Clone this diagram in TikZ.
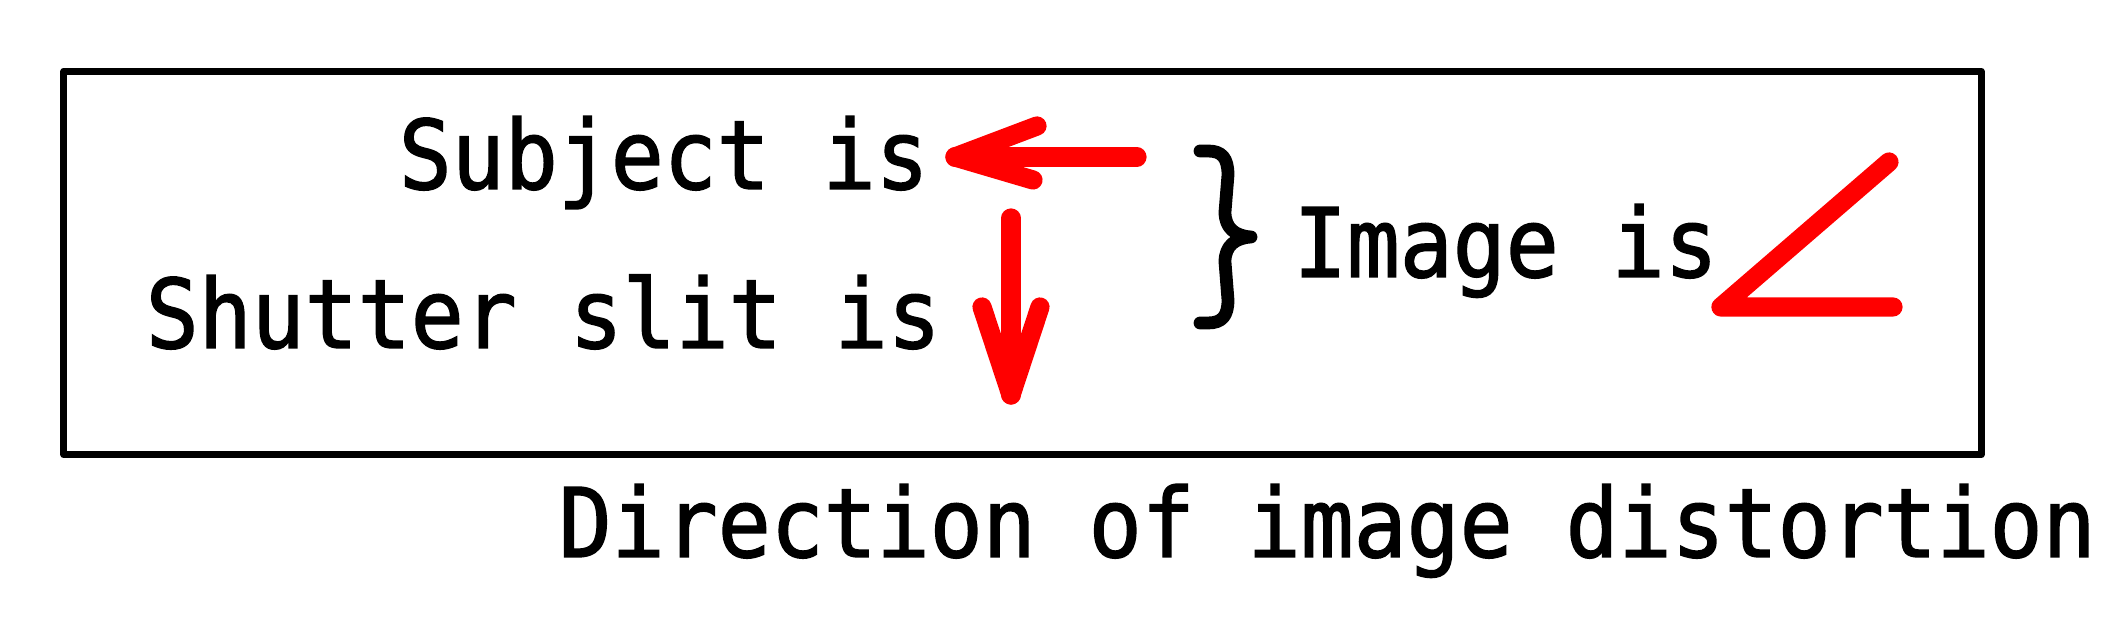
\documentclass[tikz,border=0pt]{standalone}
\usepackage{fontspec}
\newfontfamily\dmono{DejaVu Sans Mono}[FakeStretch=0.917,FakeBold=1.5]
\begin{document}
\begin{tikzpicture}[x=0.25pt,y=-0.25pt,
  lbl/.style={font=\dmono\fontsize{24pt}{28pt}\selectfont, inner sep=0pt, anchor=base west},
  redline/.style={draw=red, line width=4.8pt, line cap=round, line join=round},
  frame/.style={draw=black, line width=1.75pt, line join=round},
  bracestyle/.style={draw=black, line width=3.2pt, line cap=round, line join=round}]
\useasboundingbox (0,0) rectangle (2125,617);
% frame
\draw[frame] (63.8,71.3) rectangle (1981,454.7);
% labels
\node[lbl] (subj) at (398,189) {Subject is};
\node[lbl] (shut) at (145,348) {Shutter slit is};
\node[lbl] (img) at (1293,277) {Image is};
\node[lbl] (dir) at (558,557) {Direction of image distortion};
% left arrow
\coordinate (lt) at (955,157);
\coordinate (ls) at (1137,157);
\draw[redline] (ls) -- (lt);
\draw[redline] (1037,126) -- (lt) -- (1033,180);
% down arrow
\coordinate (dt) at (1011,395);
\coordinate (ds) at (1011,218);
\draw[redline] (ds) -- (dt);
\draw[redline] (982,307) -- (dt) -- (1040,307);
% brace
\draw[bracestyle] (1200,151) -- (1208,151)
  .. controls (1222,151) and (1228,158) .. (1228,175)
  -- (1225,212)
  .. controls (1225,228) and (1235,236) .. (1251,237)
  .. controls (1235,238) and (1225,246) .. (1225,262)
  -- (1228,300)
  .. controls (1228,316) and (1222,323) .. (1208,323)
  -- (1200,323);
% angle
\draw[redline] (1889,162) -- (1721,307) -- (1893,307);
\end{tikzpicture}
\end{document}
